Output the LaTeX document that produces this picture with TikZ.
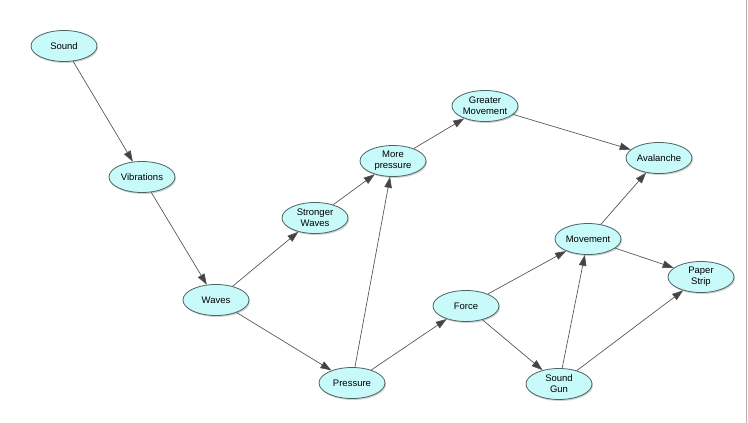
\documentclass[tikz,border=0pt]{standalone}
\usepackage{fontspec}
\setmainfont{Liberation Sans}
\usetikzlibrary{shapes.geometric,arrows.meta,shadows}
\definecolor{nodefill}{RGB}{200,250,250}
\definecolor{nodeline}{RGB}{75,100,100}
\definecolor{edgecol}{RGB}{80,80,80}
\tikzset{
  concept/.style={ellipse, draw=nodeline, line width=0.8pt, fill=nodefill,
    minimum width=66pt, minimum height=31pt, inner sep=0pt,
    font=\fontsize{9.5}{11}\selectfont, align=center,
    drop shadow={shadow xshift=1pt, shadow yshift=-1.5pt, fill=black!35}},
  link/.style={draw=edgecol, line width=0.65pt,
    -{Triangle[length=11pt,width=7.5pt,fill=edgecol!85!black]}}
}
\begin{document}
\begin{tikzpicture}[x=1pt,y=-1pt]
\useasboundingbox (0,0) rectangle (748,423);
\fill[white] (0,0) rectangle (748,423);
\draw[black!30, line width=0.8pt] (746.5,0) -- (746.5,423);
\node[concept] (sound) at (64,46) {Sound};
\node[concept] (vib) at (142,177) {Vibrations};
\node[concept] (waves) at (216,300) {Waves};
\node[concept] (strong) at (315,218) {Stronger\\Waves};
\node[concept] (more) at (393,161) {More\\pressure};
\node[concept] (greater) at (485,106) {Greater\\Movement};
\node[concept] (aval) at (659,158) {Avalanche};
\node[concept] (move) at (588,239) {Movement};
\node[concept] (paper) at (701,277) {Paper\\Strip};
\node[concept] (force) at (466,306) {Force};
\node[concept] (press) at (352,383) {Pressure};
\node[concept] (gun) at (559,384) {Sound\\Gun};
\draw[link] (sound) -- (vib);
\draw[link] (vib) -- (waves);
\draw[link] (waves) -- (strong);
\draw[link] (waves) -- (press);
\draw[link] (strong) -- (more);
\draw[link] (press) -- (more);
\draw[link] (more) -- (greater);
\draw[link] (greater) -- (aval);
\draw[link] (press) -- (force);
\draw[link] (force) -- (move);
\draw[link] (force) -- (gun);
\draw[link] (gun) -- (move);
\draw[link] (gun) -- (paper);
\draw[link] (move) -- (paper);
\draw[link] (move) -- (aval);
\end{tikzpicture}
\end{document}
